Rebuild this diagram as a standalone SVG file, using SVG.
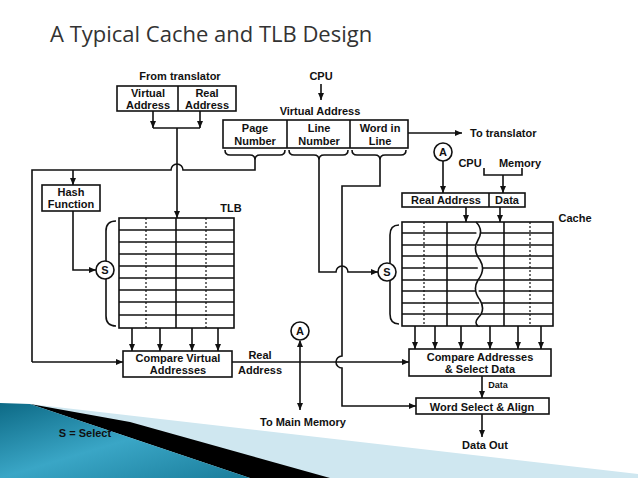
<svg xmlns="http://www.w3.org/2000/svg" width="638" height="478" viewBox="0 0 638 478">
<defs>
<style>
text{font-family:"Liberation Sans",Arial,sans-serif;font-weight:bold;font-size:11px;fill:#111;text-anchor:middle}
.b{fill:#fff;stroke:#111;stroke-width:1.6}
.l{fill:none;stroke:#111;stroke-width:1.6}
.d{fill:none;stroke:#111;stroke-width:1.2;stroke-dasharray:2,2}
.a{marker-end:url(#ar)}
</style>
<marker id="ar" markerWidth="8" markerHeight="8" refX="7" refY="4" orient="auto" markerUnits="userSpaceOnUse"><path d="M0,1 L7,4 L0,7 z" fill="#111"/></marker>
<marker id="as" markerWidth="8" markerHeight="8" refX="1" refY="4" orient="auto" markerUnits="userSpaceOnUse"><path d="M7,1 L0,4 L7,7 z" fill="#111"/></marker>
<linearGradient id="tg" x1="0" y1="0" x2="1" y2="1"><stop offset="0" stop-color="#0d6a86"/><stop offset="0.5" stop-color="#3aa6c6"/><stop offset="1" stop-color="#1a7d9b"/></linearGradient>
</defs>
<rect width="638" height="478" fill="#fff"/>
<g id="swoosh">
<polygon points="30,404 638,474 638,478 230,478" fill="#cfe7f0"/>
<polygon points="30,404 130,422 330,478 250,478" fill="#000"/>
<polygon points="0,403 30,404 250,478 0,478" fill="url(#tg)"/>
</g>
<text x="50" y="42" style="font-family:'Open Sans',sans-serif;font-weight:normal;font-size:22px;fill:#333;text-anchor:start">A Typical Cache and TLB Design</text>

<g id="translator">
<text x="180" y="80">From translator</text>
<rect class="b" x="117" y="86" width="119" height="25"/>
<line class="l" x1="178" y1="86" x2="178" y2="111"/>
<text x="148" y="97">Virtual</text><text x="148" y="109">Address</text>
<text x="207" y="97">Real</text><text x="207" y="109">Address</text>
</g>
<g id="cpu">
<text x="321" y="80">CPU</text>
<text x="320" y="115">Virtual Address</text>
<rect class="b" x="223" y="120" width="185" height="28"/>
<line class="l" x1="287" y1="120" x2="287" y2="148"/>
<line class="l" x1="350" y1="120" x2="350" y2="148"/>
<text x="255" y="132">Page</text><text x="255" y="145">Number</text>
<text x="319" y="132">Line</text><text x="319" y="145">Number</text>
<text x="380" y="132">Word in</text><text x="380" y="145">Line</text>
<text x="470" y="137" style="text-anchor:start">To translator</text>
</g>
<g id="hash"><rect class="b" x="42" y="185" width="58" height="26"/><text x="71" y="196">Hash</text><text x="71" y="208">Function</text></g>
<g id="tlb">
<text x="231" y="212">TLB</text>
<rect class="b" x="119" y="218" width="115" height="110"/>
<g class="l"><line x1="119" y1="230" x2="234" y2="230"/><line x1="119" y1="242" x2="234" y2="242"/><line x1="119" y1="254" x2="234" y2="254"/><line x1="119" y1="266" x2="234" y2="266"/><line x1="119" y1="278" x2="234" y2="278"/><line x1="119" y1="290" x2="234" y2="290"/><line x1="119" y1="302" x2="234" y2="302"/><line x1="119" y1="315" x2="234" y2="315"/><line x1="176" y1="218" x2="176" y2="328"/></g>
<line class="d" x1="146" y1="218" x2="146" y2="328"/><line class="d" x1="206" y1="218" x2="206" y2="328"/>
<path class="l" d="M116,221 Q106,221 106,231 L106,261 M106,279 L106,316 Q106,326 116,326"/>
<circle class="b" cx="105" cy="270" r="9"/><text x="105" y="274">S</text>
</g>
<g id="cmpv"><rect class="b" x="123" y="351" width="109" height="26"/><text x="178" y="362">Compare Virtual</text><text x="178" y="374">Addresses</text></g>
<g id="cacheIn">
<circle class="b" cx="443" cy="152" r="9"/><text x="443" y="156">A</text>
<text x="470" y="167">CPU</text><text x="520" y="167">Memory</text>
<path class="l" d="M484,168 L484,175 L522,175 L522,168"/>
<rect class="b" x="402" y="193" width="123" height="14"/>
<line class="l" x1="489" y1="193" x2="489" y2="207"/>
<text x="446" y="204">Real Address</text><text x="507" y="204">Data</text>
</g>
<g id="cache">
<text x="575" y="222">Cache</text>
<rect class="b" x="402" y="222" width="151" height="104"/>
<g class="l"><line x1="402" y1="233" x2="553" y2="233"/><line x1="402" y1="245" x2="553" y2="245"/><line x1="402" y1="256" x2="553" y2="256"/><line x1="402" y1="268" x2="553" y2="268"/><line x1="402" y1="280" x2="553" y2="280"/><line x1="402" y1="291" x2="553" y2="291"/><line x1="402" y1="303" x2="553" y2="303"/><line x1="402" y1="314" x2="553" y2="314"/><line x1="447" y1="222" x2="447" y2="326"/><line x1="504" y1="222" x2="504" y2="326"/></g>
<line class="d" x1="424" y1="222" x2="424" y2="326"/><line class="d" x1="530" y1="222" x2="530" y2="326"/>
<path d="M476,222 Q484,230 478,240 Q472,250 480,260 Q486,270 478,280 Q472,290 480,300 Q486,310 478,318 Q474,323 478,326 L480,326" fill="#fff" stroke="#111" stroke-width="1.6"/>
<path class="l" d="M399,225 Q390,225 390,235 L390,263 M390,281 L390,314 Q390,324 399,324"/>
<circle class="b" cx="387" cy="272" r="9"/><text x="387" y="276">S</text>
</g>
<g id="cmpa"><rect class="b" x="409" y="349" width="142" height="27"/><text x="480" y="361">Compare Addresses</text><text x="480" y="373">&amp; Select Data</text></g>
<g id="wsel"><rect class="b" x="416" y="398" width="133" height="16"/><text x="482" y="411">Word Select &amp; Align</text></g>
<g id="misc">
<circle class="b" cx="300" cy="331" r="9"/><text x="300" y="335">A</text>
<text x="260" y="359">Real</text><text x="260" y="374">Address</text>
<text x="303" y="426">To Main Memory</text>
<text x="498" y="388" style="font-size:9px">Data</text>
<text x="485" y="449">Data Out</text>
<text x="85" y="437">S = Select</text>
</g>
<g id="connectors">
<path class="l a" d="M321,84 L321,100"/>
<path class="l a" d="M153,111 L153,128"/><path class="l a" d="M200,111 L200,128"/>
<path class="l" d="M153,128 L200,128"/>
<path class="l a" d="M177,128 L177,218"/>
<path class="l" d="M225,150 Q225,155 230,155 L250,155 Q255,155 255,160 Q255,155 260,155 L280,155 Q285,155 285,150"/>
<path class="l" d="M289,150 Q289,155 294,155 L314,155 Q319,155 319,160 Q319,155 324,155 L343,155 Q348,155 348,150"/>
<path class="l" d="M352,150 Q352,155 357,155 L375,155 Q380,155 380,160 Q380,155 385,155 L401,155 Q406,155 406,150"/>
<path class="l" d="M255,160 L255,170 L183,170 A6,6 0 0 0 171,170 L32,170 L32,362"/>
<path class="l a" d="M32,362 L123,362"/>
<path class="l a" d="M73,170 L73,185"/>
<path class="l a" d="M73,211 L73,270 L96,270"/>
<path class="l a" d="M319,160 L319,272 L336,272 A6,6 0 0 1 348,272 L378,272"/>
<path class="l a" d="M380,160 L380,186 L342,186 L342,356 A6,6 0 0 0 342,368 L342,406 L416,406"/>
<path class="l a" d="M408,133 L462,133"/>
<path class="l a" d="M443,161 L443,193"/>
<path class="l a" d="M503,175 L503,193"/>
<path class="l a" d="M466,207 L466,222"/><path class="l a" d="M500,207 L500,222"/>
<path class="l a" d="M132,328 L132,351"/><path class="l a" d="M160,328 L160,351"/><path class="l a" d="M192,328 L192,351"/><path class="l a" d="M218,328 L218,351"/>
<path class="l a" d="M415,326 L415,349"/><path class="l a" d="M435,326 L435,349"/><path class="l a" d="M461,326 L461,349"/><path class="l a" d="M490,326 L490,349"/><path class="l a" d="M518,326 L518,349"/><path class="l a" d="M541,326 L541,349"/>
<path class="l a" d="M232,362 L409,362"/>
<path class="l" d="M300,341 L300,410" marker-start="url(#as)" marker-end="url(#ar)"/>
<path class="l a" d="M482,376 L482,398"/>
<path class="l a" d="M482,414 L482,437"/>
</g>
</svg>
